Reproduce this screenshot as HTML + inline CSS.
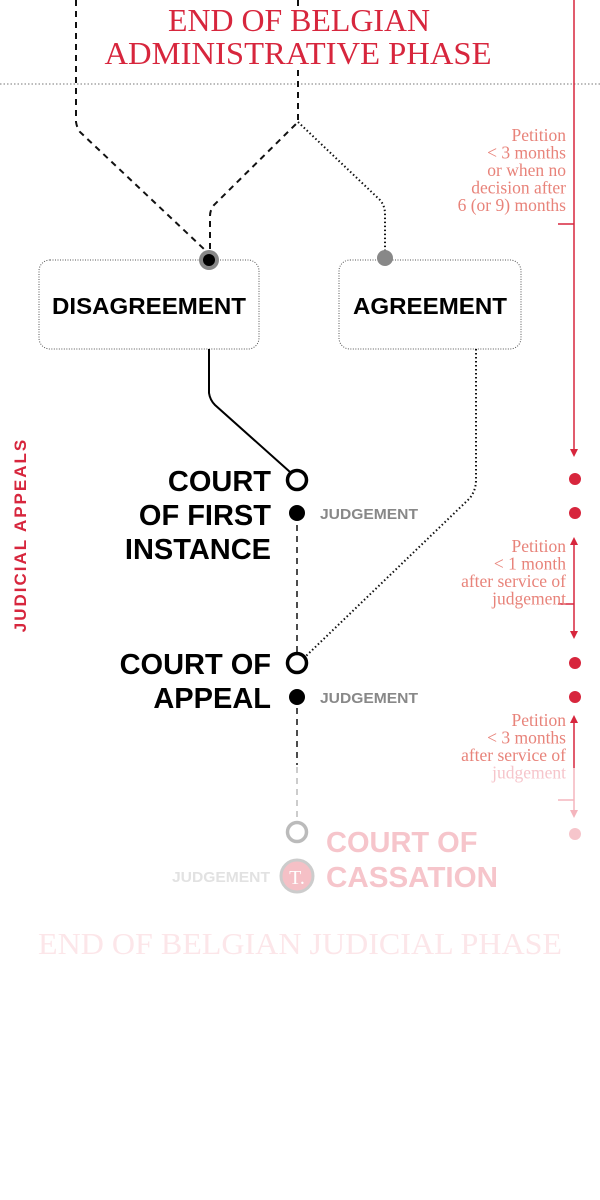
<!DOCTYPE html>
<html><head><meta charset="utf-8"><style>
html,body{margin:0;padding:0;background:#fff;}
svg{display:block;}
</style></head><body>
<svg width="600" height="1200" viewBox="0 0 600 1200" xmlns="http://www.w3.org/2000/svg">
<line x1="0" y1="84" x2="600" y2="84" stroke="#777" stroke-width="1" stroke-dasharray="1.5 2"/>
<g font-family="Liberation Serif, serif" fill="#d7263d" text-anchor="middle" font-size="32">
<text x="299" y="31" textLength="262" lengthAdjust="spacingAndGlyphs">END OF BELGIAN</text>
<text x="298" y="64" textLength="387" lengthAdjust="spacingAndGlyphs">ADMINISTRATIVE PHASE</text>
</g>
<g fill="none" stroke="#111" stroke-width="2" stroke-dasharray="6 5">
<path d="M76 0 V122 Q77 128 80 132 L205 250"/>
<path d="M298 0 V8 M298 70 V122 L214 205 Q210 210 210 216 V252"/>
</g>
<path d="M298 122 L380 200 Q385 206 385 214 V252" fill="none" stroke="#111" stroke-width="2" stroke-dasharray="1.5 2.5"/>
<g fill="none" stroke="#555" stroke-width="1" stroke-dasharray="1 1.5">
<rect x="39" y="260" width="220" height="89" rx="11"/>
<rect x="339" y="260" width="182" height="89" rx="11"/>
</g>
<circle cx="209" cy="260" r="10" fill="#888"/>
<circle cx="209" cy="260" r="6" fill="#000"/>
<circle cx="385" cy="258" r="8" fill="#888"/>
<g font-family="Liberation Sans, sans-serif" font-weight="bold" font-size="23" text-anchor="middle" fill="#000">
<text x="149" y="314" textLength="194" lengthAdjust="spacingAndGlyphs">DISAGREEMENT</text>
<text x="430" y="314" textLength="154" lengthAdjust="spacingAndGlyphs">AGREEMENT</text>
</g>
<path d="M209 349 V393 Q210 400 215 405 L290 472" fill="none" stroke="#000" stroke-width="2"/>
<path d="M476 349 V480 Q476 490 470 498 L305 657" fill="none" stroke="#111" stroke-width="2" stroke-dasharray="1.5 2.5"/>
<line x1="297" y1="525" x2="297" y2="652" stroke="#111" stroke-width="1.5" stroke-dasharray="6 5"/>
<line x1="297" y1="708" x2="297" y2="765" stroke="#111" stroke-width="1.5" stroke-dasharray="6 5"/>
<line x1="297" y1="767" x2="297" y2="820" stroke="#bbb" stroke-width="1.5" stroke-dasharray="6 5"/>
<circle cx="297" cy="480" r="9.5" fill="#fff" stroke="#000" stroke-width="3.5"/>
<circle cx="297" cy="513" r="8" fill="#000"/>
<circle cx="297" cy="663" r="9.5" fill="#fff" stroke="#000" stroke-width="3.5"/>
<circle cx="297" cy="697" r="8" fill="#000"/>
<circle cx="297" cy="832" r="9.5" fill="#fff" stroke="#bbb" stroke-width="3.5"/>
<circle cx="297" cy="876" r="16" fill="#f5c0c6" stroke="#ccc" stroke-width="3"/>
<text x="297" y="884" font-family="Liberation Serif, serif" font-size="20" fill="#fff" text-anchor="middle">T.</text>
<g font-family="Liberation Sans, sans-serif" font-weight="bold" font-size="29" text-anchor="end" fill="#000">
<text x="271" y="491">COURT</text>
<text x="271" y="525">OF FIRST</text>
<text x="271" y="559">INSTANCE</text>
<text x="271" y="674">COURT OF</text>
<text x="271" y="708">APPEAL</text>
</g>
<g font-family="Liberation Sans, sans-serif" font-weight="bold" font-size="15" fill="#888">
<text x="320" y="519" textLength="98" lengthAdjust="spacingAndGlyphs">JUDGEMENT</text>
<text x="320" y="703" textLength="98" lengthAdjust="spacingAndGlyphs">JUDGEMENT</text>
<text x="172" y="882" fill="#e2e2e2" textLength="98" lengthAdjust="spacingAndGlyphs">JUDGEMENT</text>
</g>
<g font-family="Liberation Sans, sans-serif" font-weight="bold" font-size="29" fill="#f6c5cb">
<text x="326" y="852">COURT OF</text>
<text x="326" y="887" textLength="172" lengthAdjust="spacingAndGlyphs">CASSATION</text>
</g>
<text x="300" y="954" font-family="Liberation Serif, serif" font-size="31" fill="#fce6e9" text-anchor="middle" textLength="524" lengthAdjust="spacingAndGlyphs">END OF BELGIAN JUDICIAL PHASE</text>
<text transform="translate(26 535) rotate(-90)" font-family="Liberation Sans, sans-serif" font-weight="bold" font-size="17" letter-spacing="2" fill="#d7263d" text-anchor="middle">JUDICIAL APPEALS</text>
<g stroke="#d7263d" stroke-width="1.5" fill="none">
<line x1="574" y1="0" x2="574" y2="452"/>
<line x1="558" y1="224" x2="574" y2="224"/>
<line x1="574" y1="540" x2="574" y2="634"/>
<line x1="558" y1="604" x2="574" y2="604"/>
<line x1="574" y1="722" x2="574" y2="768"/>
</g>
<g stroke="#f4b5bd" stroke-width="1.5" fill="none">
<line x1="574" y1="768" x2="574" y2="813"/>
<line x1="558" y1="800" x2="574" y2="800"/>
</g>
<g fill="#d7263d">
<path d="M570 449 L578 449 L574 457Z"/>
<path d="M570 545 L578 545 L574 537Z"/>
<path d="M570 631 L578 631 L574 639Z"/>
<path d="M570 723 L578 723 L574 715Z"/>
<circle cx="575" cy="479" r="6"/>
<circle cx="575" cy="513" r="6"/>
<circle cx="575" cy="663" r="6"/>
<circle cx="575" cy="697" r="6"/>
</g>
<path d="M570 810 L578 810 L574 818Z" fill="#f4b5bd"/>
<circle cx="575" cy="834" r="6" fill="#f6c5cb"/>
<g font-family="Liberation Serif, serif" font-size="17.5" fill="#e8837a" text-anchor="end">
<text x="566" y="141">Petition</text>
<text x="566" y="158.5">&lt; 3 months</text>
<text x="566" y="176">or when no</text>
<text x="566" y="193.5">decision after</text>
<text x="566" y="211">6 (or 9) months</text>
<text x="566" y="552">Petition</text>
<text x="566" y="569.5">&lt; 1 month</text>
<text x="566" y="587">after service of</text>
<text x="566" y="604.5">judgement</text>
<text x="566" y="726">Petition</text>
<text x="566" y="743.5">&lt; 3 months</text>
<text x="566" y="761">after service of</text>
<text x="566" y="778.5" fill="#f6c5cb">judgement</text>
</g>
</svg>
</body></html>
